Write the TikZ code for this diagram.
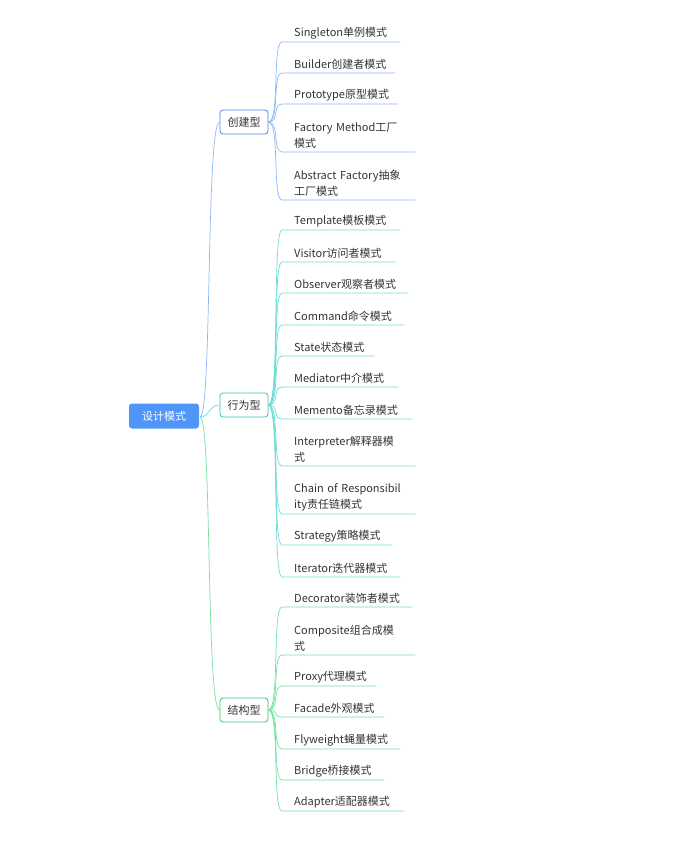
\documentclass[tikz,border=0pt]{standalone}
\usepackage{fontspec}
\setmainfont{Noto Sans CJK SC}
\definecolor{cb}{HTML}{8DB8F5}
\definecolor{cbb}{HTML}{3F86F0}
\definecolor{cc}{HTML}{6ADCD8}
\definecolor{ccb}{HTML}{2EC3C0}
\definecolor{cg}{HTML}{74E0A4}
\definecolor{cgb}{HTML}{30C76E}
\definecolor{rootc}{HTML}{4F96F8}
\begin{document}
\begin{tikzpicture}[x=1pt,y=-1pt,
  font=\fontsize{11}{16}\selectfont,
  leaf/.style={anchor=south west,inner xsep=0pt,inner ysep=3pt,align=left,text=black!80},
  branchbox/.style={draw,rounded corners=3pt,fill=white,minimum width=48pt,minimum height=24pt,inner sep=0pt,line width=0.8pt,text=black!80},
  conn/.style={line width=0.7pt}]
\useasboundingbox (0,0) rectangle (681,843);
\node[fill=rootc,text=white,rounded corners=3pt,minimum width=70pt,minimum height=25pt,inner sep=0pt] (root) at (164,416) {设计模式};
\node[branchbox,draw=cbb] (b1) at (244,122) {创建型};
\node[branchbox,draw=ccb] (b2) at (244,405) {行为型};
\node[branchbox,draw=cgb] (b3) at (244,710) {结构型};
\coordinate (r) at (200,417);
\draw[conn,cb] (r) .. controls (212,417) and (206,122) .. (b1.west);
\draw[conn,cc] (r) .. controls (210,417) and (208,405) .. (b2.west);
\draw[conn,cg] (r) .. controls (212,417) and (206,710) .. (b3.west);
\foreach \n/\y/\w/\t in {
 a1/42/118/Singleton单例模式,
 a2/73/113/Builder创建者模式,
 a3/104/116/Prototype原型模式,
 a4/152/133/Factory Method工厂\\模式,
 a5/200/133/Abstract Factory抽象\\工厂模式}{
 \node[leaf,text width={\w-12}] (\n) at (294,\y) {\t};
 \draw[conn,cb] (b1.east) .. controls (280,122) and (272,\y) .. (282,\y) -- (\n.south east);
}
\foreach \n/\y/\w/\t in {
 c1/230/118/Template模板模式,
 c2/262/113/Visitor访问者模式,
 c3/293/126/Observer观察者模式,
 c4/325/122/Command命令模式,
 c5/356/92/State状态模式,
 c6/387/116/Mediator中介模式,
 c7/419/130/Memento备忘录模式,
 c8/466/133/Interpreter解释器模\\式,
 c9/514/133/Chain of Responsibil\\ity责任链模式,
 c10/545/110/Strategy策略模式,
 c11/577/118/Iterator迭代器模式}{
 \node[leaf,text width={\w-12}] (\n) at (294,\y) {\t};
 \draw[conn,cc] (b2.east) .. controls (280,405) and (272,\y) .. (282,\y) -- (\n.south east);
}
\foreach \n/\y/\w/\t in {
 g1/607/130/Decorator装饰者模式,
 g2/655/133/Composite组合成模\\式,
 g3/686/94/Proxy代理模式,
 g4/717/102/Facade外观模式,
 g5/749/118/Flyweight蝇量模式,
 g6/780/102/Bridge桥接模式,
 g7/811/122/Adapter适配器模式}{
 \node[leaf,text width={\w-12}] (\n) at (294,\y) {\t};
 \draw[conn,cg] (b3.east) .. controls (280,710) and (272,\y) .. (282,\y) -- (\n.south east);
}
\end{tikzpicture}
\end{document}
